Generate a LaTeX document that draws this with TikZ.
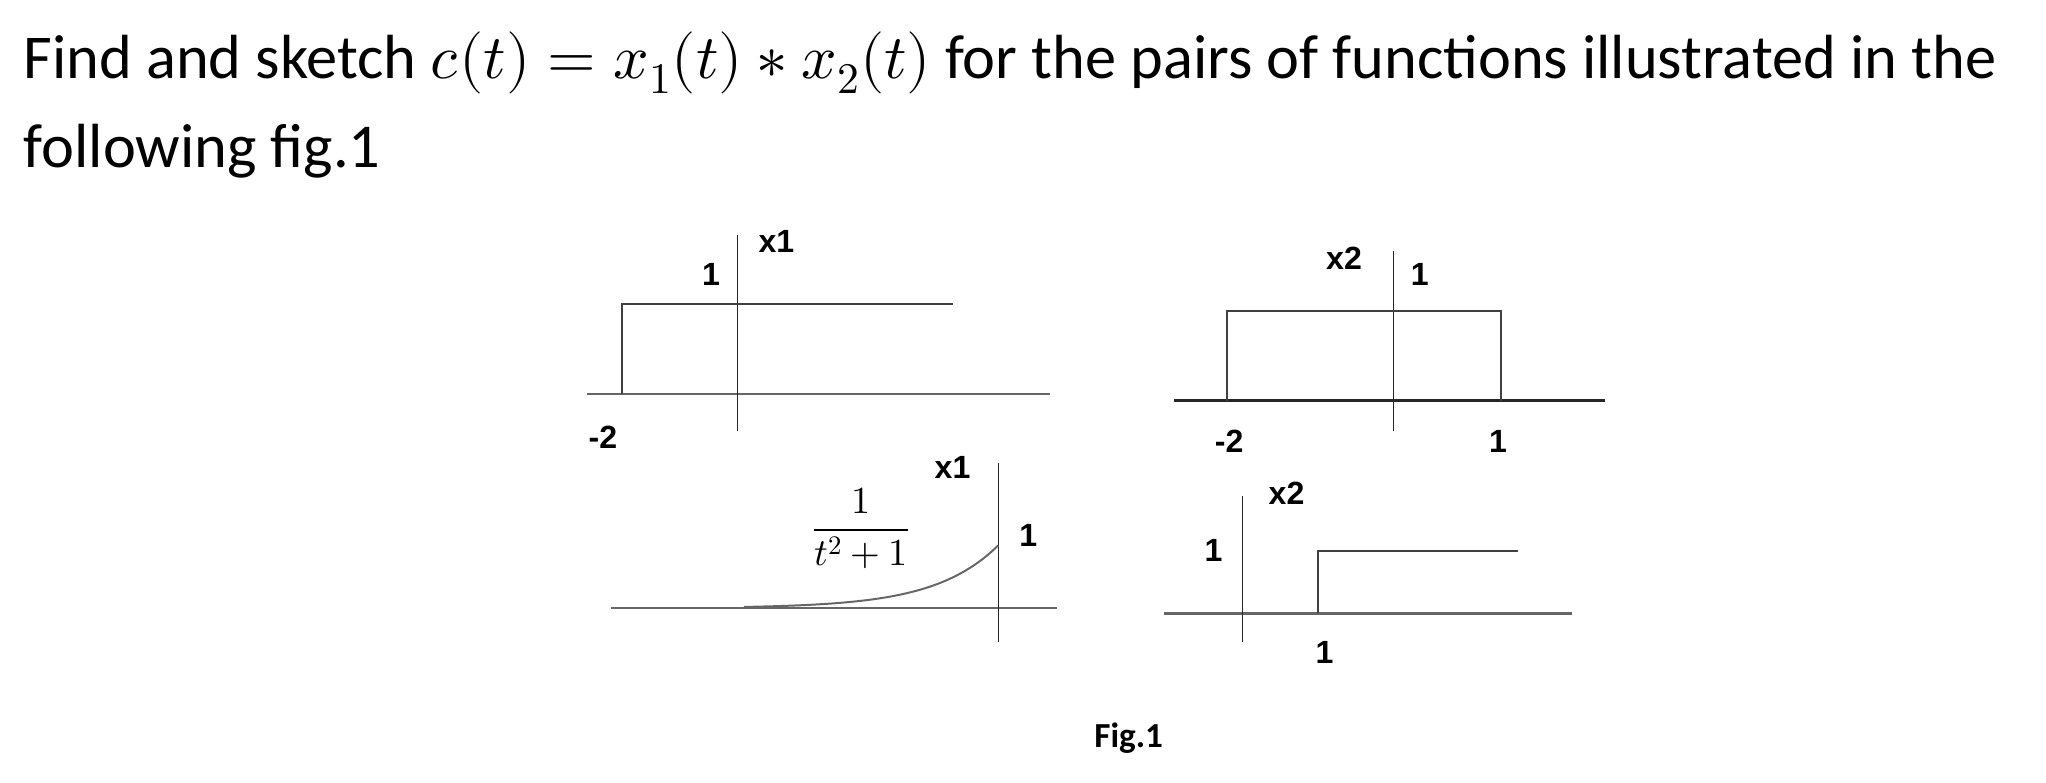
\documentclass[tikz,border=0pt]{standalone}
\usepackage{fontspec}
\usepackage{unicode-math}
\setmainfont{Carlito}
\setmathfont{Latin Modern Math}
\newfontfamily\lbl{Liberation Sans}
\begin{document}
\begin{tikzpicture}[x=0.03cm,y=-0.03cm,
  ax/.style={line width=1.6pt,gray!80!black},
  axv/.style={line width=0.9pt,black!85},
  sig/.style={line width=1.3pt,black!75},
  lab/.style={font=\lbl\fontsize{21}{24}\selectfont\bfseries,inner sep=0pt},
  ttl/.style={font=\fontsize{40.8}{46}\selectfont,inner sep=0pt,anchor=base west}]
\useasboundingbox (0,0) rectangle (1568,600);
\node[ttl] (t1) at (18,60) {Find and sketch $c(t) = x_1(t) \ast x_2(t)$ for the pairs of functions illustrated in the};
\node[ttl] (t2) at (18,128) {following fig.1};
% top-left
\draw[ax] (450,302) -- (805,302);
\draw[axv] (565,180) -- (565,330);
\draw[sig] (477,302) -- (477,233) -- (730,233);
\node[lab] (a1) at (545,210) {1};
\node[lab] (a2) at (595,185) {x1};
\node[lab] (a3) at (462,335) {-2};
% top-right
\draw[line width=2.4pt,black!85] (900,307) -- (1230,307);
\draw[axv] (1068,192) -- (1068,330);
\draw[sig] (940,307) -- (940,238) -- (1150,238) -- (1150,307);
\node[lab] (b1) at (1030,198) {x2};
\node[lab] (b2) at (1088,210) {1};
\node[lab] (b3) at (942,338) {-2};
\node[lab] (b4) at (1148,338) {1};
% bottom-left
\draw[ax] (468,466) -- (810,466);
\draw[axv] (765,355) -- (765,492);
\draw[sig,gray!80!black,domain=-4:0,samples=60,smooth] plot ({765+48.75*\x},{466-48*exp(\x)});
\node[inner sep=0pt,font=\fontsize{25}{30}\selectfont] (c0) at (660,405) {$\dfrac{1}{t^2+1}$};
\node[lab] (c1) at (730,358) {x1};
\node[lab] (c2) at (788,410) {1};
% bottom-right
\draw[ax] (892,470) -- (1205,470);
\draw[axv] (952,380) -- (952,492);
\draw[sig] (1010,470) -- (1010,422) -- (1163,422);
\node[lab] (d1) at (986,378) {x2};
\node[lab] (d2) at (930,422) {1};
\node[lab] (d3) at (1015,500) {1};
\node[font=\fontsize{23}{27}\selectfont\bfseries,inner sep=0pt] (f) at (865,566) {Fig.1};
\end{tikzpicture}
\end{document}
